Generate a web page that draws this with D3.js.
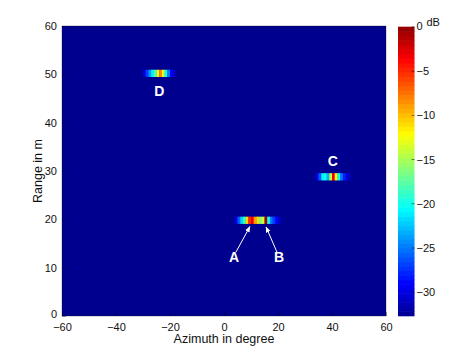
<!DOCTYPE html>
<html><head><meta charset="utf-8">
<script src="https://cdn.jsdelivr.net/npm/d3@7"></script>
<style>body{margin:0;background:#fff;} text{font-family:"Liberation Sans",Arial,sans-serif;}</style>
</head><body><svg id="c" width="474" height="355"></svg>
<script>
// ---- data ----
const azTicks = [-60, -40, -20, 0, 20, 40, 60];
const rangeTicks = [0, 10, 20, 30, 40, 50, 60];
const cbTicks = [-30, -25, -20, -15, -10, -5, 0];
const dbDomain = [-32.7, 0];
const backgroundDb = -32.7;

const targetRange = [19.8, 28.8, 50.2];   // m
const targetAzStart = [4, 34, -30];        // deg, first 1-deg bin
const abProfile = [-30, -26, -22, -19, -11, -5, -3, -9, -11, -16, -14, -1, -20, -25, -27, -29, -31];
const cProfile  = [-30, -26, -21, -20, -23, -14, -3, -12, -20, -25, -28, -30, -31.5];
const dProfile  = [-30, -27, -24, -21, -18, -13, -8, -13, -20, -25, -29, -31];
const profiles = [abProfile, cProfile, dProfile];

const labelText = ["A", "B", "C", "D"];
const labelAz = [3.7, 20.4, 40.3, -24.0];
const labelRange = [12.3, 12.3, 32.1, 46.6];
const arrowFromAz = [4.4, 19.7], arrowFromRange = [13.2, 13.1];
const arrowToAz = [9.6, 15.6], arrowToRange = [18.5, 18.4];

// ---- layout ----
const svg = d3.select("#c");
const L = 62, R = 386, T = 26, B = 316;
const x = d3.scaleLinear().domain([-60, 60]).range([L, R]);
const y = d3.scaleLinear().domain([0, 60]).range([B, T]);
const cb = d3.scaleLinear().domain(dbDomain).range([316, 27]);
const cbX0 = 398, cbX1 = 414.5;

function jet(t) {
  t = 1 / 64 + Math.max(0, Math.min(1, t)) * 62 / 64;
  const c = v => Math.round(255 * Math.max(0, Math.min(1, v)));
  return `rgb(${c(1.5 - Math.abs(4 * t - 3))},${c(1.5 - Math.abs(4 * t - 2))},${c(1.5 - Math.abs(4 * t - 1))})`;
}
const norm = d3.scaleLinear().domain(dbDomain).range([0, 1]).clamp(true);
const color = v => jet(norm(v));

const defs = svg.append("defs");
defs.append("filter").attr("id", "soft").attr("x", "-20%").attr("y", "-50%").attr("width", "140%").attr("height", "200%")
  .append("feGaussianBlur").attr("stdDeviation", 0.6);
defs.append("marker").attr("id", "ah").attr("viewBox", "0 0 10 10").attr("refX", 9).attr("refY", 5)
  .attr("markerWidth", 6).attr("markerHeight", 6).attr("orient", "auto")
  .append("path").attr("d", "M0,1 L10,5 L0,9 Z").attr("fill", "#fff");

// background
svg.append("rect").attr("x", x(-60)).attr("y", y(60)).attr("width", x(60) - x(-60)).attr("height", y(0) - y(60))
  .attr("fill", color(backgroundDb));

// blobs
const halfH = 0.75;
const g = svg.append("g").attr("filter", "url(#soft)");
profiles.forEach((p, k) => {
  g.selectAll(null).data(p).enter().append("rect")
    .attr("x", (d, i) => x(targetAzStart[k] + i))
    .attr("width", (d, i) => x(targetAzStart[k] + i + 1) - x(targetAzStart[k] + i) + 0.3)
    .attr("y", y(targetRange[k] + halfH))
    .attr("height", y(targetRange[k] - halfH) - y(targetRange[k] + halfH))
    .attr("fill", d => color(d));
});

// arrows
arrowFromAz.forEach((a, i) => {
  svg.append("line").attr("x1", x(a)).attr("y1", y(arrowFromRange[i]))
    .attr("x2", x(arrowToAz[i])).attr("y2", y(arrowToRange[i]))
    .attr("stroke", "#fff").attr("stroke-width", 1).attr("marker-end", "url(#ah)");
});
// labels
svg.selectAll(null).data(labelText).enter().append("text")
  .attr("x", (d, i) => x(labelAz[i])).attr("y", (d, i) => y(labelRange[i]) + 5)
  .attr("text-anchor", "middle").attr("fill", "#fff").attr("font-weight", "bold").attr("font-size", 14)
  .text(d => d);

// plot box
svg.append("rect").attr("x", L).attr("y", T).attr("width", R - L).attr("height", B - T)
  .attr("fill", "none").attr("stroke", "#000").attr("stroke-width", 0.6).attr("stroke-opacity", 0.5);

// axes
const xAxis = svg.append("g").attr("transform", `translate(0,${B})`)
  .call(d3.axisBottom(x).tickValues(azTicks).tickSize(-4).tickPadding(7).tickFormat(d3.format("d")));
const yAxis = svg.append("g").attr("transform", `translate(${L},0)`)
  .call(d3.axisLeft(y).tickValues(rangeTicks).tickSize(-4).tickPadding(5).tickFormat(d3.format("d")));
[xAxis, yAxis].forEach(a => {
  a.select(".domain").remove();
  a.selectAll(".tick line").attr("stroke", "#000").attr("stroke-opacity", 0.4);
  a.selectAll("text").attr("font-size", 11).attr("fill", "#111").attr("font-family", "Liberation Sans, Arial, sans-serif");
});
xAxis.selectAll("text").attr("dy", "0.71em");
yAxis.selectAll(".tick").filter(d => d === 0).select("text").attr("dy", "0.1em");

svg.append("text").attr("x", (L + R) / 2).attr("y", 343).attr("text-anchor", "middle")
  .attr("font-size", 12.5).attr("fill", "#111").text("Azimuth in degree");
svg.append("text").attr("transform", `translate(42,${(T + B) / 2}) rotate(-90)`).attr("text-anchor", "middle")
  .attr("font-size", 12.5).attr("fill", "#111").text("Range in m");

// colorbar
const nSteps = 64;
const steps = d3.range(nSteps).map(i => dbDomain[0] + (dbDomain[1] - dbDomain[0]) * i / nSteps);
const stepH = (cb(dbDomain[0]) - cb(dbDomain[1])) / nSteps;
svg.append("g").selectAll("rect").data(steps).enter().append("rect")
  .attr("x", cbX0).attr("width", cbX1 - cbX0)
  .attr("y", d => cb(d) - stepH - 0.3).attr("height", stepH + 0.6)
  .attr("fill", d => color(d + (dbDomain[1] - dbDomain[0]) / nSteps / 2));
const cbAxis = svg.append("g").attr("transform", `translate(${cbX1},0)`)
  .call(d3.axisRight(cb).tickValues(cbTicks).tickSize(0).tickPadding(2).tickFormat(d3.format("d")));
cbAxis.select(".domain").remove();
cbAxis.selectAll("text").attr("font-size", 11).attr("fill", "#111").attr("font-family", "Liberation Sans, Arial, sans-serif");
cbAxis.selectAll(".tick").filter(d => d === 0).select("text").attr("dy", "0.25em");
svg.append("g").selectAll("line").data(cbTicks).enter().append("line")
  .attr("x1", cbX1 - 3).attr("x2", cbX1).attr("y1", d => cb(d)).attr("y2", d => cb(d))
  .attr("stroke", "#000").attr("stroke-opacity", 0.5);
svg.append("text").attr("x", 426.5).attr("y", 26).attr("font-size", 11).attr("fill", "#111").text("dB");
</script></body></html>
